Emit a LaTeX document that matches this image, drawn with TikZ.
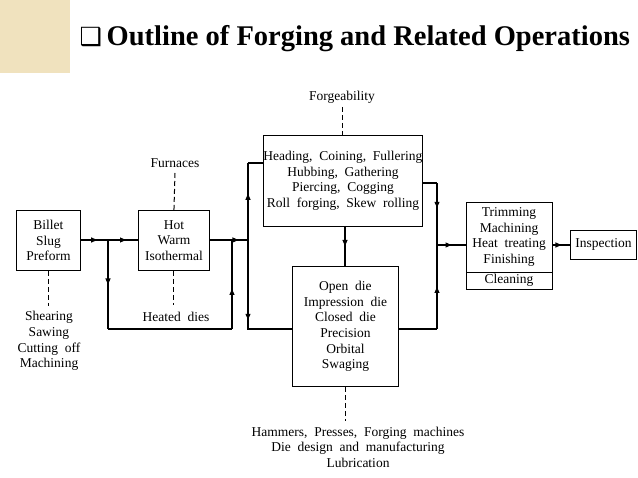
\documentclass[tikz,border=0pt]{standalone}
\usepackage{fontspec}
\setmainfont{Liberation Serif}
\newfontfamily\symf{DejaVu Sans}
\usetikzlibrary{decorations.markings,arrows.meta}
\begin{document}
\begin{tikzpicture}[x=1pt,y=-1pt,line width=1.1pt,
  box/.style={draw,line width=0.9pt,align=center,font=\fontsize{13.5}{15.6}\selectfont,inner sep=0pt,anchor=north west},
  lbl/.style={align=center,font=\fontsize{13.5}{15.6}\selectfont,inner sep=1pt},
  dsh/.style={dashed,dash pattern=on 5pt off 3pt,line width=1pt},
  arr/.style={postaction={decorate},decoration={markings,mark=at position #1 with {\arrow{Triangle[length=6pt,width=5pt]}}}}]
\useasboundingbox (0,0) rectangle (638,478);
\fill[color={rgb,255:red,240;green,226;blue,190}] (0,0) rectangle (70,73);
\node[anchor=west,font=\fontsize{28.5}{31}\selectfont\bfseries,inner sep=0pt] (title) at (79,39) {{\symf\fontsize{25}{28}\selectfont ❑}\,Outline of Forging and Related Operations};

\node[box,minimum width=64pt,minimum height=60pt] (billet) at (16,210) {Billet\\Slug\\Preform};
\node[box,minimum width=71pt,minimum height=60pt] (hot) at (138,210) {Hot\\Warm\\Isothermal};
\node[box,minimum width=159pt,minimum height=91pt] (ops) at (263,135) {Heading,~ Coining,~ Fullering\\Hubbing,~ Gathering\\Piercing,~ Cogging\\Roll~ forging,~ Skew~ rolling};
\node[box,minimum width=106pt,minimum height=120pt] (dies) at (292,266) {Open~ die\\Impression~ die\\Closed~ die\\Precision\\Orbital\\Swaging};
\node[box,minimum width=86pt,minimum height=87pt,anchor=north west] (trim) at (466,202) {};
\node[lbl] (trimt) at (509,237) {Trimming\\Machining\\Heat~ treating\\Finishing};
\node[lbl] (clean) at (509,280) {Cleaning};
\draw[line width=0.9pt] (466,272) -- (552,272);
\node[box,minimum width=66pt,minimum height=29pt] (insp) at (570,230) {Inspection};

\node[lbl] (furn) at (175,163) {Furnaces};
\node[lbl] (heated) at (176,317) {Heated~ dies};
\node[lbl] (shear) at (49,341) {Shearing\\Sawing\\Cutting~ off\\Machining};
\node[lbl] (forg) at (342,97) {Forgeability};
\node[lbl] (hamm) at (358,447) {Hammers,~ Presses,~ Forging~ machines\\Die~ design~ and~ manufacturing\\Lubrication};

\draw[dsh] (175,173) -- (hot.north);
\draw[dsh] (hot.south) -- ++(0,34);
\draw[dsh] (billet.south) -- ++(0,35);
\draw[dsh] (342,107) -- (342,135);
\draw[dsh] (dies.south) -- ++(0,34);

\coordinate (j1) at (108,240);
\coordinate (j2) at (232,240);
\coordinate (j3) at (248,240);
\coordinate (j4) at (437,245);
\coordinate (b1) at (108,329);
\coordinate (b2) at (232,329);
\draw[arr=0.6] (billet.east |- j1) -- (j1);
\draw[arr=0.6] (j1) -- (hot.west |- j1);
\draw[arr=0.5] (j1) -- (b1);
\draw (b1) -- (b2);
\draw[arr=0.45] (b2) -- (j2);
\draw[arr=0.75] (hot.east |- j3) -- (j3);
\draw[arr=0.6] (j3) -- (248,163);
\draw (248,163) -- (ops.west |- 0,163);
\draw[arr=0.6] (j3) -- (248,329) -- (dies.west |- 0,329);
\draw[arr=0.5] (345,226) -- (345,266);
\draw (ops.east |- 0,183) -- (437,183);
\draw[arr=0.4] (437,183) -- (j4);
\draw (dies.east |- 0,329) -- (437,329);
\draw[arr=0.5] (437,329) -- (j4);
\draw[arr=0.5] (j4) -- (trim.west |- j4);
\draw[arr=0.5] (trim.east |- 0,245) -- (insp.west |- 0,245);
\end{tikzpicture}
\end{document}
